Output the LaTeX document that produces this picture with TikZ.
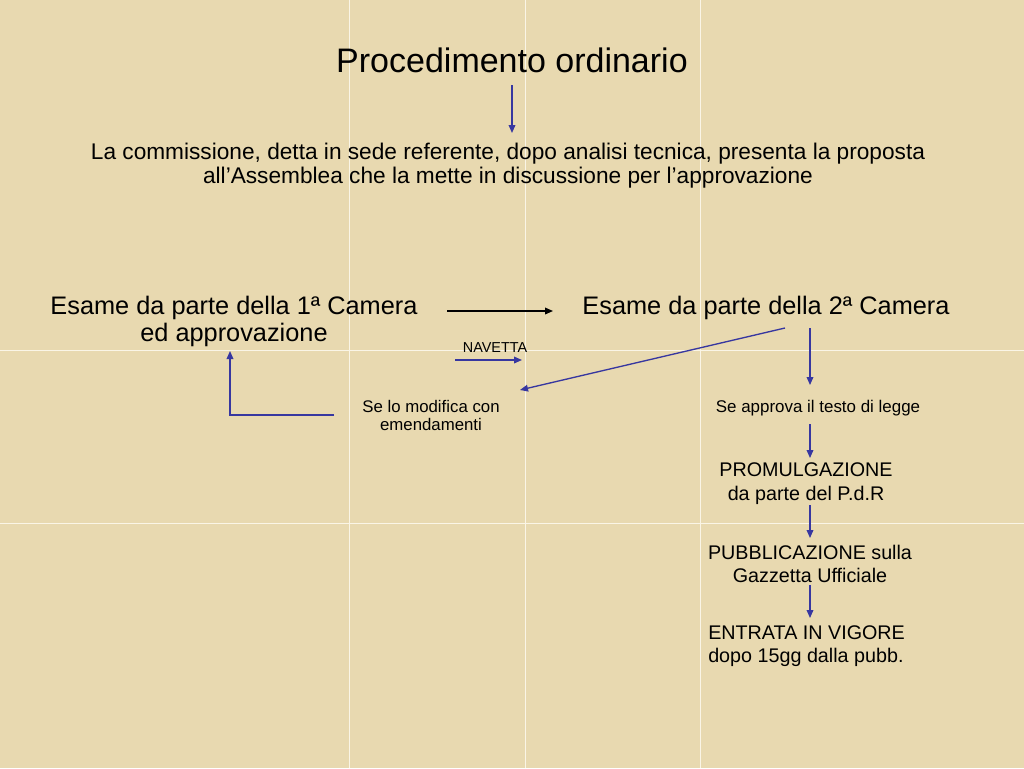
\documentclass[tikz,border=0pt]{standalone}
\usepackage{fontspec}
\setmainfont{Liberation Sans}
\usetikzlibrary{arrows.meta}
\definecolor{paper}{RGB}{232,217,176}
\definecolor{seam}{RGB}{250,245,230}
\definecolor{arrblue}{RGB}{55,55,160}
\tikzset{
  flow/.style={draw=arrblue, line width=1pt, -{Triangle[length=6pt,width=5pt]}},
  blackflow/.style={draw=black, line width=1pt, -{Triangle[length=6pt,width=5pt]}},
  txt/.style={inner sep=0pt, align=center, text=black},
}
\newcommand{\fsz}[2]{\fontsize{#1}{#2}\selectfont}
\begin{document}
\begin{tikzpicture}[x=0.75pt,y=-0.75pt]
\useasboundingbox (0,0) rectangle (1024,768);
\fill[paper] (0,0) rectangle (1024,768);
% texture seams
\foreach \gx in {349,525,700} \draw[seam, line width=0.6pt] (\gx,0) -- (\gx,768);
\foreach \gy in {350,523} \draw[seam, line width=0.6pt] (0,\gy) -- (1024,\gy);

\node[txt, font=\fsz{25.5pt}{30pt}] (title) at (512,60) {Procedimento ordinario};
\node[txt, font=\fsz{17pt}{18pt}] (comm) at (508,166) {La commissione, detta in sede referente, dopo analisi tecnica, presenta la proposta\\all’Assemblea che la mette in discussione per l’approvazione};
\node[txt, font=\fsz{19pt}{20.25pt}] (esame1) at (234,321.5) {Esame da parte della 1ª Camera\\ed approvazione};
\node[txt, font=\fsz{19pt}{20.25pt}] (esame2) at (766,308) {Esame da parte della 2ª Camera};
\node[txt, font=\fsz{10.8pt}{12pt}] (navetta) at (495,348) {NAVETTA};
\node[txt, font=\fsz{12.6pt}{13.5pt}] (modifica) at (431,415) {Se lo modifica con\\emendamenti};
\node[txt, font=\fsz{12.7pt}{13.5pt}] (approva) at (818,408) {Se approva il testo di legge};
\node[txt, font=\fsz{14.8pt}{18pt}] (promul) at (806,484) {PROMULGAZIONE\\da parte del P.d.R};
\node[txt, font=\fsz{14.8pt}{17pt}] (pubbl) at (810,564) {PUBBLICAZIONE sulla\\Gazzetta Ufficiale};
\node[txt, font=\fsz{14.8pt}{17pt}, align=left, anchor=west] (entrata) at (708,646) {ENTRATA IN VIGORE\\dopo 15gg dalla pubb.};

% connector endpoints
\coordinate (t1) at (512,85);
\coordinate (t2) at (512,133);
\coordinate (b1) at (447,311);
\coordinate (b2) at (553,311);
\coordinate (n1) at (455,360);
\coordinate (n2) at (522,360);
\coordinate (d1) at (785,328);
\coordinate (d2) at (520,390);
\coordinate (r1) at (810,328);
\coordinate (r2) at (810,385);
\coordinate (l1) at (334,415);
\coordinate (l2) at (230,415);
\coordinate (l3) at (230,351);
\coordinate (p1) at (810,424);
\coordinate (p2) at (810,458);
\coordinate (q1) at (810,505);
\coordinate (q2) at (810,538);
\coordinate (s1) at (810,585);
\coordinate (s2) at (810,618);

\draw[flow] (t1) -- (t2);
\draw[blackflow] (b1) -- (b2);
\draw[flow] (n1) -- (n2);
\draw[flow] (d1) -- (d2);
\draw[flow] (r1) -- (r2);
\draw[flow] (l1) -- (l2) -- (l3);
\draw[flow] (p1) -- (p2);
\draw[flow] (q1) -- (q2);
\draw[flow] (s1) -- (s2);
\end{tikzpicture}
\end{document}
